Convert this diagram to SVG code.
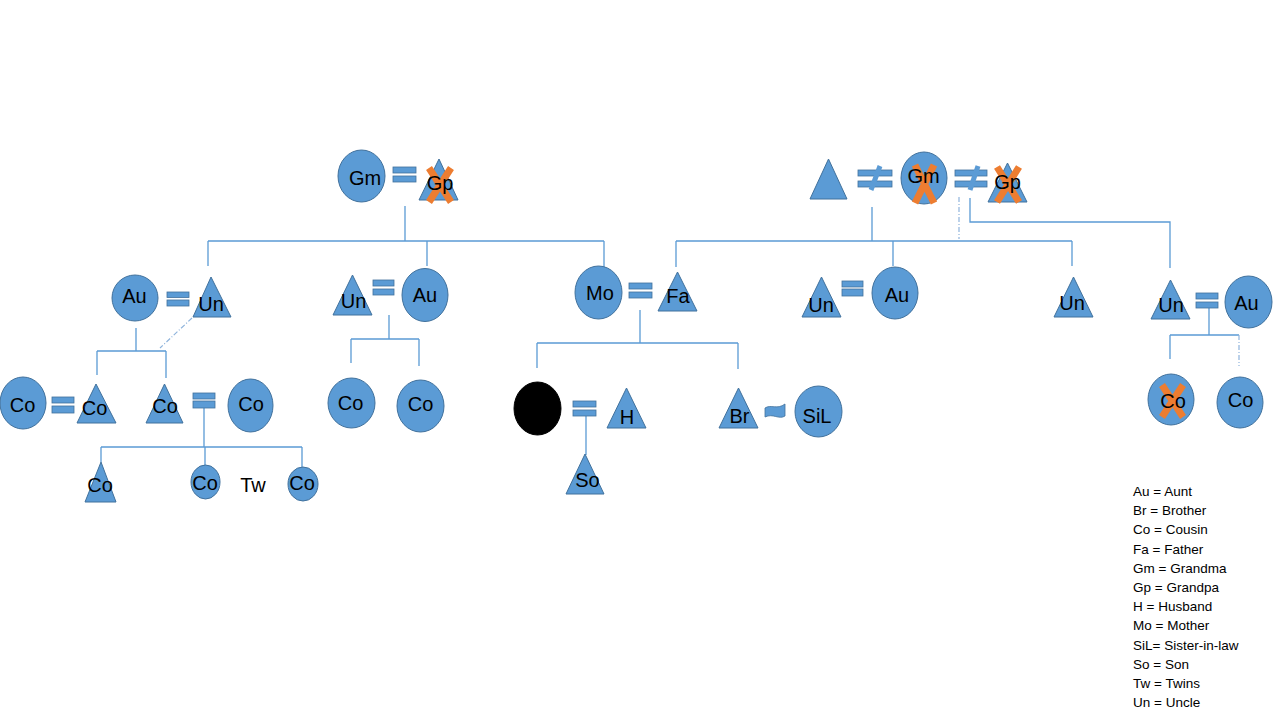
<svg xmlns="http://www.w3.org/2000/svg" width="1280" height="720" viewBox="0 0 1280 720">
<style>
.sh{fill:#5B9BD5;stroke:#41719C;stroke-width:1}
.blk{fill:#000;stroke:#000;stroke-width:1}
.eq{fill:#5B9BD5;stroke:#41719C;stroke-width:0.8}
.ln{fill:none;stroke:#5B9BD5;stroke-width:1.3}
.dl{fill:none;stroke:#8FB4DC;stroke-width:1.2;stroke-dasharray:5 2 1 2}
.x{fill:none;stroke:#ED7D31;stroke-width:7}
.t{font-family:"Liberation Sans",Arial,sans-serif;font-size:20px;fill:#000;text-anchor:middle}
.lg{font-family:"Liberation Sans",Arial,sans-serif;font-size:13.5px;fill:#000}
</style>
<rect width="1280" height="720" fill="#fff"/>
<g id="connectors">
<path class="ln" d="M405,206V241M208,241H604M208,241V266M427,241V266M604,241V267"/>
<path class="ln" d="M136,328V351M97,351H166M97,351V375M166,351V378"/>
<path class="dl" d="M192,318L160,348"/>
<path class="ln" d="M204,408V447M101,447H302M101,447V462M205,447V467M302,447V467"/>
<path class="ln" d="M389,315V339M351,339H419M351,339V363M419,339V366"/>
<path class="ln" d="M640,310V343M537,343H738M537,343V368M738,343V369M586,416V455"/>
<path class="ln" d="M872,207V241M676,241H1072M676,241V267M893,241V266M1072,241V266"/>
<path class="dl" d="M959,197V239"/>
<path class="ln" d="M970,198V222H1170V268"/>
<path class="ln" d="M1209,308V335M1170,335H1239M1170,335V359"/>
<path class="dl" d="M1239,335V366"/>
</g>
<g id="gm-left"><ellipse class="sh" cx="361.5" cy="176" rx="23.5" ry="26"/><text class="t" x="365" y="185">Gm</text></g>
<g id="eq-gm-gp"><rect class="eq" x="393" y="167" width="23" height="6"/><rect class="eq" x="393" y="176" width="23" height="6"/></g>
<g id="gp-left"><polygon class="sh" points="439,159 458,200 419,200"/><path class="x" d="M429,168L451,202M451,168L429,202"/><text class="t" x="440" y="190">Gp</text></g>
<g id="au-1"><ellipse class="sh" cx="135" cy="298" rx="23" ry="23"/><text class="t" x="134.5" y="303">Au</text></g>
<g id="eq-au1"><rect class="eq" x="167" y="292" width="22" height="5.5"/><rect class="eq" x="167" y="300" width="22" height="6"/></g>
<g id="un-1"><polygon class="sh" points="211,277 231,317 193,317"/><text class="t" x="211" y="311">Un</text></g>
<g id="co-1"><ellipse class="sh" cx="23" cy="403" rx="23" ry="26"/><text class="t" x="22.5" y="412">Co</text></g>
<g id="eq-co1"><rect class="eq" x="52" y="397" width="22" height="6"/><rect class="eq" x="52" y="406" width="22" height="7"/></g>
<g id="co-2"><polygon class="sh" points="96,384 116,423 77,423"/><text class="t" x="94.5" y="415">Co</text></g>
<g id="co-3"><polygon class="sh" points="164.5,384 183,423 146,423"/><text class="t" x="165" y="413">Co</text></g>
<g id="eq-co3"><rect class="eq" x="193" y="393" width="22" height="6"/><rect class="eq" x="193" y="401" width="22" height="7"/></g>
<g id="co-4"><ellipse class="sh" cx="250.5" cy="405.5" rx="22.5" ry="26.5"/><text class="t" x="251" y="411">Co</text></g>
<g id="co-5"><polygon class="sh" points="101,462 116,502 85,502"/><text class="t" x="100" y="492">Co</text></g>
<g id="co-6"><ellipse class="sh" cx="205.5" cy="482" rx="14.5" ry="17"/><text class="t" x="205" y="490">Co</text></g>
<g id="tw"><text class="t" x="253" y="492">Tw</text></g>
<g id="co-7"><ellipse class="sh" cx="303" cy="484" rx="15" ry="17"/><text class="t" x="302" y="490">Co</text></g>
<g id="un-2"><polygon class="sh" points="352.5,275 372,315 333,315"/><text class="t" x="353.5" y="308">Un</text></g>
<g id="eq-un2"><rect class="eq" x="373" y="280" width="21" height="6"/><rect class="eq" x="373" y="289" width="21" height="6"/></g>
<g id="au-2"><ellipse class="sh" cx="425" cy="295" rx="23" ry="26.5"/><text class="t" x="425" y="302">Au</text></g>
<g id="co-8"><ellipse class="sh" cx="351.5" cy="403" rx="23.5" ry="25"/><text class="t" x="350.5" y="410">Co</text></g>
<g id="co-9"><ellipse class="sh" cx="420.5" cy="406" rx="23.5" ry="26"/><text class="t" x="420.5" y="411">Co</text></g>
<g id="mo"><ellipse class="sh" cx="598.5" cy="292.5" rx="23.5" ry="26.5"/><text class="t" x="600" y="300">Mo</text></g>
<g id="eq-mo"><rect class="eq" x="629" y="283" width="23" height="6"/><rect class="eq" x="629" y="292" width="23" height="6"/></g>
<g id="fa"><polygon class="sh" points="677.5,272 697,311 658,311"/><text class="t" x="678" y="303">Fa</text></g>
<g id="self"><ellipse class="blk" cx="537.5" cy="408.5" rx="23.5" ry="26.5"/></g>
<g id="eq-self"><rect class="eq" x="573" y="401" width="23" height="6"/><rect class="eq" x="573" y="410" width="23" height="6"/></g>
<g id="h"><polygon class="sh" points="626.5,388 646,428 607,428"/><text class="t" x="627" y="424">H</text></g>
<g id="so"><polygon class="sh" points="585,454 604,494 566,494"/><text class="t" x="587.5" y="487">So</text></g>
<g id="br"><polygon class="sh" points="738.5,388 758,428 719,428"/><text class="t" x="739.5" y="423">Br</text></g>
<g id="rel-br-sil"><path class="eq" d="M765,408C771,404 777,410 785,404V416C779,420 773,413 765,417Z"/></g>
<g id="sil"><ellipse class="sh" cx="818.5" cy="411.5" rx="23.5" ry="25.5"/><text class="t" x="817" y="423">SiL</text></g>
<g id="un-3"><polygon class="sh" points="821.5,277 841,317 802,317"/><text class="t" x="821" y="312">Un</text></g>
<g id="eq-un3"><rect class="eq" x="842" y="281" width="21" height="6"/><rect class="eq" x="842" y="289" width="21" height="7"/></g>
<g id="au-3"><ellipse class="sh" cx="895" cy="293" rx="23" ry="26"/><text class="t" x="897" y="302">Au</text></g>
<g id="un-4"><polygon class="sh" points="1073.5,277 1093,317 1054,317"/><text class="t" x="1072" y="310">Un</text></g>
<g id="un-5"><polygon class="sh" points="1170.5,280 1190,319 1151,319"/><text class="t" x="1171" y="312">Un</text></g>
<g id="eq-un5"><rect class="eq" x="1196" y="293" width="22" height="6"/><rect class="eq" x="1196" y="302" width="22" height="6"/></g>
<g id="au-4"><ellipse class="sh" cx="1248.5" cy="302" rx="23.5" ry="26"/><text class="t" x="1246.5" y="310">Au</text></g>
<g id="co-10"><ellipse class="sh" cx="1171" cy="399.5" rx="23" ry="25.5"/><path class="x" d="M1162,385L1183,417M1183,385L1162,417"/><text class="t" x="1173" y="408">Co</text></g>
<g id="co-11"><ellipse class="sh" cx="1240" cy="402.5" rx="23" ry="25.5"/><text class="t" x="1240.5" y="407">Co</text></g>
<g id="tri-right"><polygon class="sh" points="828.5,159 847,199 810,199"/></g>
<g id="neq-1"><rect class="eq" x="858" y="170" width="34" height="6"/><rect class="eq" x="858" y="181" width="34" height="6"/><path d="M880,166L871,190" stroke="#5B9BD5" stroke-width="5"/></g>
<g id="gm-right"><ellipse class="sh" cx="924" cy="178" rx="23" ry="26"/><path class="x" d="M915,165L934,203M934,165L915,203"/><text class="t" x="923.5" y="183">Gm</text></g>
<g id="neq-2"><rect class="eq" x="955" y="170" width="32" height="6"/><rect class="eq" x="955" y="181" width="32" height="6"/><path d="M978,166L970,190" stroke="#5B9BD5" stroke-width="5"/></g>
<g id="gp-right"><polygon class="sh" points="1007.5,163 1027,202 988,202"/><path class="x" d="M997,167L1019,202M1019,167L997,202"/><text class="t" x="1007.5" y="189">Gp</text></g>
<g id="legend">
<text class="lg" x="1133" y="496">Au = Aunt</text>
<text class="lg" x="1133" y="515">Br = Brother</text>
<text class="lg" x="1133" y="534">Co = Cousin</text>
<text class="lg" x="1133" y="554">Fa = Father</text>
<text class="lg" x="1133" y="573">Gm = Grandma</text>
<text class="lg" x="1133" y="592">Gp = Grandpa</text>
<text class="lg" x="1133" y="611">H = Husband</text>
<text class="lg" x="1133" y="630">Mo = Mother</text>
<text class="lg" x="1133" y="650">SiL= Sister-in-law</text>
<text class="lg" x="1133" y="669">So = Son</text>
<text class="lg" x="1133" y="688">Tw = Twins</text>
<text class="lg" x="1133" y="707">Un = Uncle</text>
</g>
</svg>
